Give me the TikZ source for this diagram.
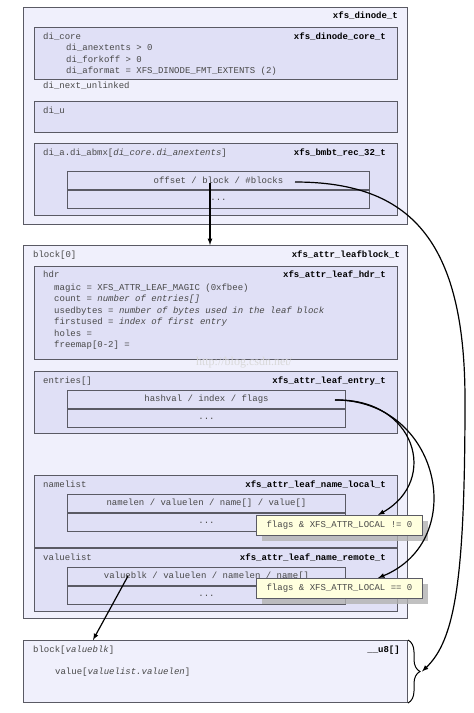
\documentclass[tikz,border=0pt]{standalone}
\usepackage{fontspec}
\setmonofont{Liberation Mono}
\newfontfamily\wmfont{Liberation Serif}
\usetikzlibrary{arrows}
\usetikzlibrary{positioning}
\usetikzlibrary{shadows}
\usetikzlibrary{decorations.pathreplacing}
\definecolor{outerfill}{RGB}{240,240,252}
\definecolor{innerfill}{RGB}{224,224,246}
\definecolor{boxline}{RGB}{90,90,100}
\definecolor{notefill}{RGB}{255,255,222}
\definecolor{txt}{RGB}{72,72,72}
\tikzset{
  box/.style={draw=boxline, line width=1pt, anchor=north west, inner sep=0pt},
  outerbox/.style={box, fill=outerfill, minimum width=384pt},
  innerbox/.style={box, fill=innerfill, minimum width=363pt},
  tablerow/.style={box, fill=innerfill, minimum height=18pt, text=txt,
    font=\fontsize{9pt}{11.5pt}\selectfont\ttfamily},
  lbl/.style={font=\fontsize{9pt}{11.5pt}\selectfont\ttfamily, text=txt,
    inner sep=0pt, anchor=west, text height=6.5pt, text depth=2pt},
  typ/.style={lbl, font=\fontsize{9pt}{11.5pt}\selectfont\ttfamily\bfseries,
    text=black, anchor=east},
  fields/.style={font=\fontsize{9pt}{11.5pt}\selectfont\ttfamily, text=txt,
    inner sep=0pt, anchor=north west, align=left},
  note/.style={draw=boxline, fill=notefill, line width=1pt, minimum width=166pt,
    minimum height=20pt, anchor=north west, inner sep=0pt,
    font=\fontsize{9pt}{11.5pt}\selectfont\ttfamily, text=txt,
    drop shadow={shadow xshift=5pt, shadow yshift=-5pt, fill=gray!60, opacity=0.8}},
  ptr/.style={-latex, line width=1.2pt},
}
\begin{document}
\begin{tikzpicture}[x=1pt, y=-1pt]
  \useasboundingbox (0,0) rectangle (474,713);

  \node[outerbox, minimum height=217pt] (dinode) at (23,7) {};
  \node[typ, left=10pt of dinode.north east, yshift=-9pt] (dinodet) {xfs\_dinode\_t};

  \node[innerbox, minimum height=52pt, below right=20pt and 11pt of dinode.north west] (core) {};
  \node[lbl, right=9pt of core.north west, yshift=-10pt] (corel) {di\_core};
  \node[typ, left=12pt of core.north east, yshift=-10pt] (coret) {xfs\_dinode\_core\_t};
  \node[fields, below right=17pt and 32pt of core.north west] (coref)
    {di\_anextents > 0\\di\_forkoff > 0\\di\_aformat = XFS\_DINODE\_FMT\_EXTENTS (2)};
  \node[lbl, right=9pt of core.south west, yshift=-6pt] (unlinked) {di\_next\_unlinked};

  \node[innerbox, minimum height=31pt, below=21pt of core] (diu) {};
  \node[lbl, right=9pt of diu.north west, yshift=-10pt] (diul) {di\_u};

  \node[innerbox, minimum height=72pt, below=10pt of diu] (dia) {};
  \node[lbl, right=9pt of dia.north west, yshift=-10pt] (dial)
    {di\_a.di\_abmx[\textit{di\_core.di\_anextents}]};
  \node[typ, left=12pt of dia.north east, yshift=-10pt] (diat) {xfs\_bmbt\_rec\_32\_t};
  \node[tablerow, minimum width=302pt, below right=28pt and 33pt of dia.north west] (abmx1)
    {offset / block / \#blocks};
  \node[tablerow, minimum width=302pt, below=0pt of abmx1] (abmx2) {...};

  \node[outerbox, minimum height=373pt, below=20pt of dinode] (leafblock) {};
  \node[lbl, right=10pt of leafblock.north west, yshift=-10pt] (leafl) {block[0]};
  \node[typ, left=8pt of leafblock.north east, yshift=-10pt] (leaft) {xfs\_attr\_leafblock\_t};

  \node[innerbox, minimum height=93pt, below right=21pt and 11pt of leafblock.north west] (hdr) {};
  \node[lbl, right=9pt of hdr.north west, yshift=-9pt] (hdrl) {hdr};
  \node[typ, left=12pt of hdr.north east, yshift=-9pt] (hdrt) {xfs\_attr\_leaf\_hdr\_t};
  \node[fields, below right=17.5pt and 20pt of hdr.north west] (hdrf)
    {magic = XFS\_ATTR\_LEAF\_MAGIC (0xfbee)\\
     count = \textit{number of entries[]}\\
     usedbytes = \textit{number of bytes used in the leaf block}\\
     firstused = \textit{index of first entry}\\
     holes =\\
     freemap[0-2] =};

  \node[font=\wmfont\fontsize{12pt}{12pt}\selectfont, text=gray!30, inner sep=0pt]
    (watermark) at (244,363) {http://blog.csdn.net/};

  \node[innerbox, minimum height=62pt, below=11pt of hdr] (entries) {};
  \node[lbl, right=9pt of entries.north west, yshift=-10pt] (entriesl) {entries[]};
  \node[typ, left=12pt of entries.north east, yshift=-10pt] (entriest) {xfs\_attr\_leaf\_entry\_t};
  \node[tablerow, minimum width=278pt, below right=19pt and 33pt of entries.north west] (entry1)
    {hashval / index / flags};
  \node[tablerow, minimum width=278pt, below=0pt of entry1] (entry2) {...};

  \node[innerbox, minimum height=72pt, below=41pt of entries] (namelist) {};
  \node[lbl, right=9pt of namelist.north west, yshift=-10pt] (namelistl) {namelist};
  \node[typ, left=12pt of namelist.north east, yshift=-10pt] (namelistt) {xfs\_attr\_leaf\_name\_local\_t};
  \node[tablerow, minimum width=278pt, below right=19pt and 33pt of namelist.north west] (local1)
    {namelen / valuelen / name[] / value[]};
  \node[tablerow, minimum width=278pt, below=0pt of local1] (local2) {...};

  \node[innerbox, minimum height=63pt, below=0pt of namelist] (valuelist) {};
  \node[lbl, right=9pt of valuelist.north west, yshift=-10pt] (valuelistl) {valuelist};
  \node[typ, left=12pt of valuelist.north east, yshift=-10pt] (valuelistt) {xfs\_attr\_leaf\_name\_remote\_t};
  \node[tablerow, minimum width=278pt, below right=19pt and 33pt of valuelist.north west] (remote1)
    {valueblk / valuelen / namelen / name[]};
  \node[tablerow, minimum width=278pt, below=0pt of remote1] (remote2) {...};

  \node[note] (note1) at (256,515) {flags \& XFS\_ATTR\_LOCAL != 0};
  \node[note] (note2) at (256,578) {flags \& XFS\_ATTR\_LOCAL == 0};

  \node[outerbox, minimum height=62pt, below=21pt of leafblock] (valblock) {};
  \node[lbl, right=10pt of valblock.north west, yshift=-10pt] (valblockl) {block[\textit{valueblk}]};
  \node[typ, left=8pt of valblock.north east, yshift=-10pt] (valblockt) {\_\_u8[]};
  \node[lbl, right=32pt of valblock.north west, yshift=-32pt] (valuel)
    {value[\textit{valuelist.valuelen}]};
  \draw[decorate, decoration={brace, amplitude=12pt}, line width=1pt]
    (valblock.north east) -- (valblock.south east);

  \coordinate (bracetip) at ([xshift=14pt]valblock.east);
  \coordinate (blkfrom) at (210,183);
  \coordinate (cntfrom) at (295,182);
  \coordinate (flagsfrom) at (335,400);
  \coordinate (vbfrom) at (128,576);

  \draw[ptr] (blkfrom) -- (blkfrom |- leafblock.north);
  \draw[ptr] (cntfrom) .. controls (410,182) and (465,240) .. (465,400)
    .. controls (465,580) and (455,640) .. (bracetip);
  \draw[ptr] (flagsfrom) .. controls (415,398) and (440,480) .. ([xshift=122pt]note1.north west);
  \draw[ptr] (flagsfrom) .. controls (440,400) and (470,540) .. ([xshift=122pt]note2.north west);
  \draw[ptr] (vbfrom) -- ([xshift=70pt]valblock.north west);
\end{tikzpicture}
\end{document}
